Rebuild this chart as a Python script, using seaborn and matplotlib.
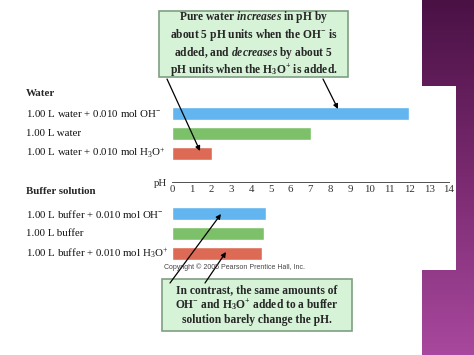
import numpy as np
import pandas as pd
import seaborn as sns
import matplotlib.pyplot as plt
from matplotlib.patches import Rectangle, FancyArrowPatch
from matplotlib.colors import LinearSegmentedColormap
from matplotlib.transforms import blended_transform_factory

# data
water_labels = ["1.00 L water + 0.010 mol OH$^{-}$",
                "1.00 L water",
                "1.00 L water + 0.010 mol H$_3$O$^{+}$"]
water_ph = [12.0, 7.0, 2.0]
buffer_labels = ["1.00 L buffer + 0.010 mol OH$^{-}$",
                 "1.00 L buffer",
                 "1.00 L buffer + 0.010 mol H$_3$O$^{+}$"]
buffer_ph = [4.75, 4.66, 4.57]
added = ["OH", "none", "H3O"]
bar_colors = {"OH": "#62b5ee", "none": "#7cc16a", "H3O": "#dd6a55"}
ph_ticks = list(range(0, 15))

sns.set_style("white")
plt.rcParams['font.family'] = ['Liberation Serif', 'DejaVu Serif']
plt.rcParams['mathtext.fontset'] = 'custom'
plt.rcParams['mathtext.rm'] = 'Liberation Serif'
plt.rcParams['mathtext.it'] = 'Liberation Serif:italic:bold'
plt.rcParams['mathtext.bf'] = 'Liberation Serif:bold'

W, H = 474, 355


def fx(x):
    return x / W


def fy(y):
    return 1 - y / H


fig = plt.figure(figsize=(4.74, 3.55), dpi=100)

# purple slide decoration on the right
axp = fig.add_axes([fx(422), 0, 52 / W, 1])
grad = np.linspace(0, 1, 256).reshape(-1, 1)
purple = LinearSegmentedColormap.from_list("p", ["#4a1145", "#7a2a70", "#a8489e"])
axp.imshow(grad, cmap=purple, aspect="auto", extent=[0, 1, 0, 1], origin="upper")
axp.add_patch(Rectangle((0, fy(270)), (456 - 422) / 52, (270 - 86) / H,
                        facecolor="white", edgecolor="none", transform=axp.transAxes))
axp.set_axis_off()

# bar rows: water at 0-2, two empty rows, buffer at 5-7
rows = [0, 1, 2, 5, 6, 7]
df = pd.DataFrame({"row": rows,
                   "ph": water_ph + buffer_ph,
                   "added": added + added})

ax = fig.add_axes([fx(172), fy(263.5), (449 - 172) / W, 160 / H])
sns.barplot(data=df, x="ph", y="row", hue="added", palette=bar_colors,
            orient="h", native_scale=True, dodge=False, width=0.64,
            legend=False, ax=ax, saturation=1)
ax.set_xlim(0, 14)
ax.set_ylim(7.5, -0.5)
ax.set_axis_off()

# row labels on the left
lab_tr = blended_transform_factory(fig.transFigure, ax.transData)
for r, lab in zip(rows, water_labels + buffer_labels):
    ax.text(fx(26), r, lab, transform=lab_tr, ha="left", va="center",
            fontsize=7.8, color="#111111")

fig.text(fx(26), fy(93), "Water", fontsize=7.8, fontweight="bold", va="center")
fig.text(fx(26), fy(192), "Buffer solution", fontsize=7.8, fontweight="bold", va="center")

# pH axis
ax2 = fig.add_axes([fx(172), fy(182), (449 - 172) / W, 0.0001])
ax2.set_xlim(0, 14)
ax2.set_xticks(ph_ticks)
ax2.set_yticks([])
for s in ["left", "right", "top"]:
    ax2.spines[s].set_visible(False)
ax2.spines["bottom"].set_linewidth(0.6)
ax2.spines["bottom"].set_color("#333333")
ax2.tick_params(axis="x", direction="in", length=4, width=0.6, pad=2,
                labelsize=7.8, colors="#333333")
ax2.patch.set_alpha(0)
fig.text(fx(167), fy(184), "pH", fontsize=7.8, ha="right", va="center")

fig.text(fx(164), fy(267), "Copyright \u00a9 2005 Pearson Prentice Hall, Inc.",
         fontsize=5, family="Liberation Sans", color="#444444", va="center")

# callout boxes
box_face = "#d6f3d8"
box_edge = "#7f9f82"
fig.add_artist(Rectangle((fx(159), fy(77)), (348 - 159) / W, (77 - 11) / H,
                         transform=fig.transFigure, facecolor=box_face,
                         edgecolor=box_edge, lw=1.2))
fig.text(fx(253.5), fy(44),
         "Pure water $\\mathit{increases}$ in pH by\n"
         "about 5 pH units when the OH$^{\\mathbf{-}}$ is\n"
         "added, and $\\mathit{decreases}$ by about 5\n"
         "pH units when the H$_{\\mathbf{3}}$O$^{\\mathbf{+}}$ is added.",
         ha="center", va="center", fontsize=8.3, fontweight="bold",
         linespacing=1.15, multialignment="center")

fig.add_artist(Rectangle((fx(162), fy(331)), (352 - 162) / W, (331 - 279) / H,
                         transform=fig.transFigure, facecolor=box_face,
                         edgecolor=box_edge, lw=1.2))
fig.text(fx(257), fy(305),
         "In contrast, the same amounts of\n"
         "OH$^{\\mathbf{-}}$ and H$_{\\mathbf{3}}$O$^{\\mathbf{+}}$ added to a buffer\n"
         "solution barely change the pH.",
         ha="center", va="center", fontsize=8.3, fontweight="bold",
         linespacing=1.12, multialignment="center")

# arrows
arrows = [((167, 79), (200, 151)), ((323, 79), (338, 109)),
          ((170, 283), (221, 214)), ((205, 283), (226, 252))]
for (x0, y0), (x1, y1) in arrows:
    fig.add_artist(FancyArrowPatch((fx(x0), fy(y0)), (fx(x1), fy(y1)),
                                   transform=fig.transFigure, arrowstyle="-|>",
                                   mutation_scale=7, lw=0.9, color="black",
                                   shrinkA=0, shrinkB=0))

fig.savefig("out.png", dpi=100)
